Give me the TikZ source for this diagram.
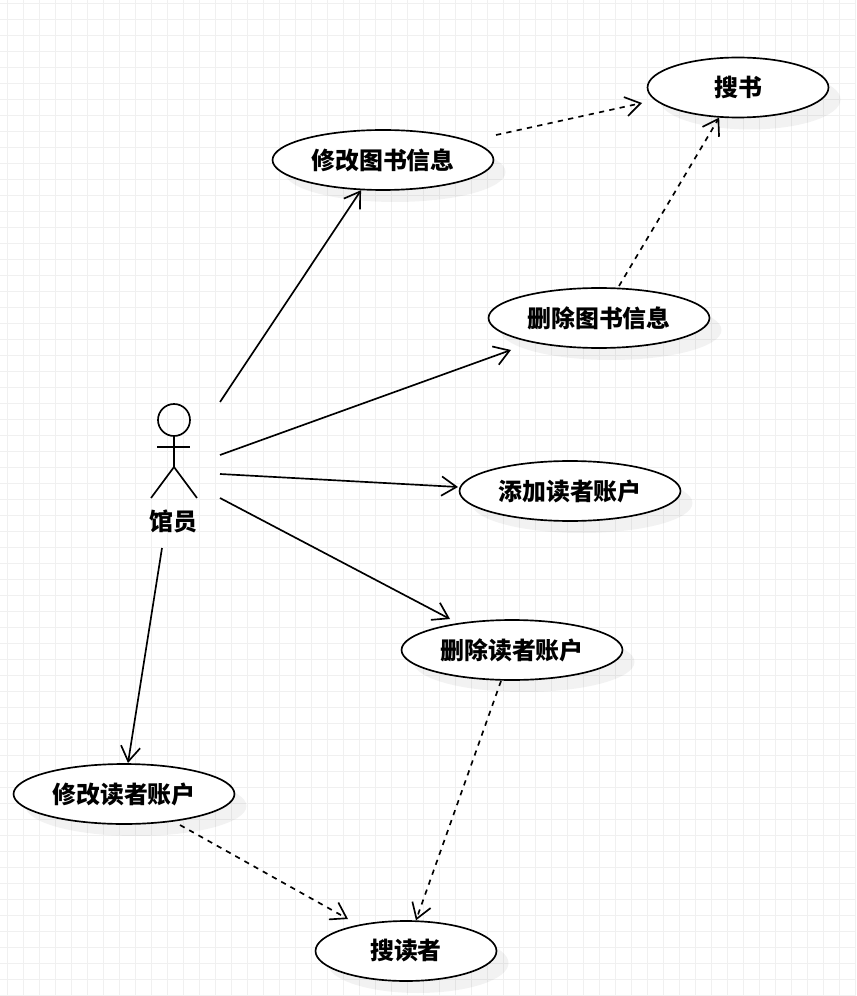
\documentclass[tikz,border=0pt]{standalone}
\usepackage{fontspec}
\setmainfont{Noto Sans CJK SC}
\usepackage{tikz}
\usetikzlibrary{arrows.meta}
\usetikzlibrary{shapes.geometric}
\usetikzlibrary{shadows}
\definecolor{gridgray}{HTML}{F0F0F0}
\tikzset{
  usecase/.style={draw,ellipse,fill=white,line width=.95pt,inner sep=0pt,minimum width=4.42cm,minimum height=1.2cm,
    font=\fontsize{13.6pt}{15pt}\selectfont\bfseries,
    drop shadow={shadow xshift=.24cm,shadow yshift=-.24cm,fill=black,opacity=.05}},
  shortcase/.style={usecase,minimum width=3.62cm},
  actorline/.style={line width=.95pt},
  uses/.style={->,line width=.95pt},
  includes/.style={->,dashed,line width=.95pt}
}
\begin{document}
\begin{tikzpicture}[x=.02cm,y=-.02cm,>={Straight Barb[length=8.5pt,width=11pt]}]
          \useasboundingbox (0,0) rectangle (856,996);
          \fill[white] (0,0) rectangle (856,996);
          \foreach \x in {7,23,...,855} \draw[gridgray,line width=.55pt] (\x,0) -- (\x,996);
          \foreach \y in {3,19,...,995} \draw[gridgray,line width=.55pt] (0,\y) -- (856,\y);

          \node[shortcase] (searchbook) at (738,87.5) {搜书};
          \node[usecase] (editbook) at (383,160) {修改图书信息};
          \node[usecase] (delbook) at (599,318) {删除图书信息};
          \node[usecase] (addreader) at (570,491) {添加读者账户};
          \node[usecase] (delreader) at (512,650) {删除读者账户};
          \node[usecase] (editreader) at (124,794) {修改读者账户};
          \node[shortcase] (searchreader) at (406,951) {搜读者};

          \node[draw,circle,actorline,inner sep=0pt,minimum size=.64cm] (head) at (174,420) {};
          \coordinate (hip) at (174,467);
          \coordinate (armleft) at (157,447);
          \coordinate (armright) at (190,447);
          \coordinate (legleft) at (151,498);
          \coordinate (legright) at (197,498);
          \draw[actorline] (head.south) -- (hip);
          \draw[actorline] (armleft) -- (armright);
          \draw[actorline] (legleft) -- (hip) -- (legright);
          \node[font=\fontsize{13.6pt}{15pt}\selectfont\bfseries] (librarian) at (173,521) {馆员};

          \coordinate (out1) at (220,402);
          \coordinate (out2) at (220,455);
          \coordinate (out3) at (220,474);
          \coordinate (out4) at (220,498);
          \coordinate (out5) at (162,548);
          \coordinate (in2) at (511,350);
          \coordinate (in3) at (458,487);
          \coordinate (in4) at (450,619);
          \coordinate (in5) at (128,763);
          \coordinate (from1) at (496,135);
          \coordinate (in6) at (642,103);
          \coordinate (from2) at (619,286);
          \coordinate (from3) at (501,681);
          \coordinate (from4) at (180,825);
          \coordinate (in9) at (348,919);

          \draw[uses] (out1) -- (editbook.-126);
          \draw[uses] (out2) -- (in2);
          \draw[uses] (out3) -- (in3);
          \draw[uses] (out4) -- (in4);
          \draw[uses] (out5) -- (in5);
          \draw[includes] (from1) -- (in6);
          \draw[includes] (from2) -- (searchbook.-122);
          \draw[includes] (from3) -- (searchreader.72);
          \draw[includes] (from4) -- (in9);
        \end{tikzpicture}
\end{document}
